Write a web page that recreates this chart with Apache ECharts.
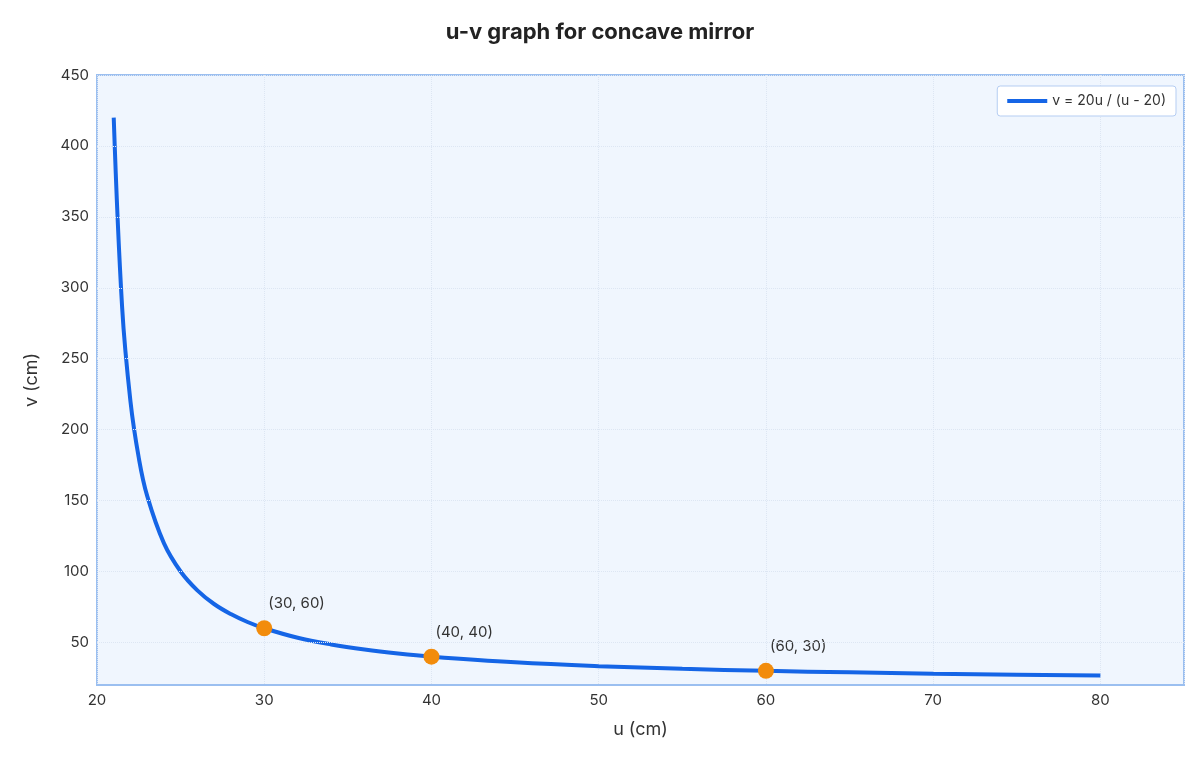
<!DOCTYPE html>
<html>
<head>
<meta charset="utf-8">
<script src="https://cdn.jsdelivr.net/npm/echarts@6/dist/echarts.min.js"></script>
<style>
  html, body { margin: 0; padding: 0; background: #fff; }
  #main { width: 1200px; height: 761px; }
</style>
</head>
<body>
<div id="main"></div>
<script>
const uValues = [21, 21.5, 22, 22.5, 23, 24, 25, 26, 27, 28, 29, 30, 32, 34, 36, 38, 40, 45, 50, 55, 60, 65, 70, 75, 80]
const vValues = [420, 286.7, 220, 180, 153.3, 120, 100, 86.7, 77.1, 70, 64.4, 60, 53.3, 48.6, 45, 42.2, 40, 36, 33.3, 31.4, 30, 28.9, 28, 27.3, 26.7]
const markedU = [30, 40, 60]
const markedV = [60, 40, 30]
const yTicks = [50, 100, 150, 200, 250, 300, 350, 400, 450]

const font = 'Inter, "Noto Sans", sans-serif'
let myChart = echarts.init(document.getElementById('main'))

let option = {
    animation: false,
    textStyle: { fontFamily: font },
    title: {
        text: 'u-v graph for concave mirror',
        left: 'center',
        top: 16,
        textStyle: { fontSize: 22, fontWeight: 'bold', color: '#222', fontFamily: font }
    },
    legend: {
        data: [{ name: 'v = 20u / (u - 20)', icon: 'rect' }],
        right: 24,
        top: 86,
        backgroundColor: '#fff',
        borderColor: '#b5cdf2',
        borderWidth: 1,
        borderRadius: 3,
        padding: [8, 10],
        itemWidth: 40,
        itemHeight: 4,
        textStyle: { fontSize: 14, color: '#333' }
    },
    grid: {
        left: 97, right: 16, top: 75, bottom: 76,
        show: true,
        backgroundColor: '#f0f6fe',
        borderColor: '#9bbff0',
        borderWidth: 2
    },
    xAxis: {
        type: 'value',
        min: 20, max: 85, interval: 10,
        name: 'u (cm)',
        nameLocation: 'middle',
        nameGap: 36,
        nameTextStyle: { fontSize: 18, color: '#333' },
        axisLine: { show: false },
        axisTick: { show: false },
        axisLabel: {
            fontSize: 15, color: '#333',
            formatter: function (v) { return v === 85 ? '' : String(v) }
        },
        splitLine: { show: true, lineStyle: { color: '#dde6f3', type: 'dotted' } }
    },
    yAxis: {
        type: 'value',
        min: 20, max: 450, interval: 10,
        name: 'v (cm)',
        nameLocation: 'middle',
        nameGap: 56,
        nameTextStyle: { fontSize: 18, color: '#333' },
        axisLine: { show: false },
        axisTick: { show: false },
        axisLabel: {
            fontSize: 15, color: '#333',
            formatter: function (v) { return v % 50 === 0 ? String(v) : '' }
        },
        splitLine: { show: false }
    },
    series: [
        {
            name: 'v = 20u / (u - 20)',
            type: 'line',
            smooth: 0.4,
            showSymbol: false,
            symbol: 'none',
            data: uValues.map((u, i) => [u, vValues[i]]),
            lineStyle: { color: '#1565e6', width: 4 },
            itemStyle: { color: '#1565e6' },
            markLine: {
                silent: true,
                symbol: 'none',
                label: { show: false },
                lineStyle: { color: '#dde6f3', type: 'dotted', width: 1 },
                data: yTicks.map(v => ({ yAxis: v }))
            },
            z: 2
        },
        {
            name: 'points',
            type: 'scatter',
            symbolSize: 16,
            data: markedU.map((u, i) => [u, markedV[i]]),
            itemStyle: { color: '#f28c0c', opacity: 1 },
            label: {
                show: true,
                position: [12, -24],
                fontSize: 15,
                color: '#333',
                formatter: function (p) { return '(' + p.value[0] + ', ' + p.value[1] + ')' }
            },
            z: 3
        }
    ]
}

myChart.setOption(option)
</script>
</body>
</html>
